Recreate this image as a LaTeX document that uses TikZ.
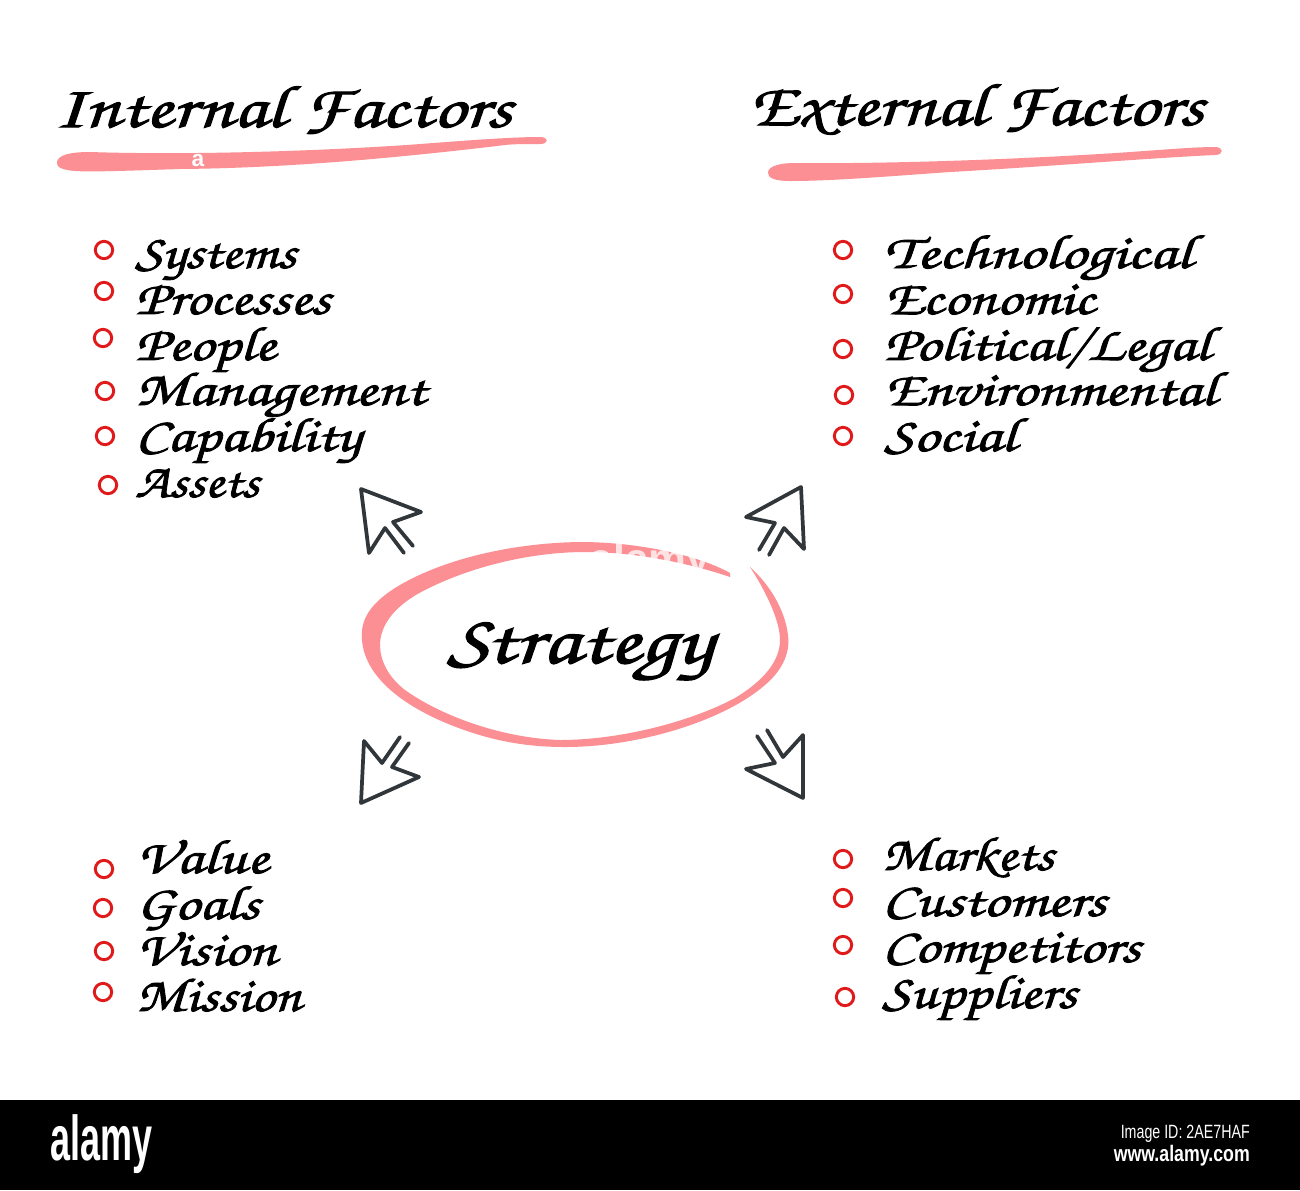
\documentclass[tikz,border=0pt]{standalone}
\usepackage{fontspec}
\setmainfont{TeX Gyre Chorus}[FakeBold=1.8,FakeStretch=1.31]
\newfontfamily\wmfont{Liberation Sans}
\definecolor{penpink}{HTML}{FB8F93}
\definecolor{bulletred}{HTML}{E01A1A}
\definecolor{arrowink}{HTML}{30363A}
\tikzset{
  head/.style={anchor=base west,inner sep=0pt,font=\fontsize{45}{45}\selectfont},
  item/.style={anchor=base west,inner sep=0pt,font=\fontsize{36}{36}\selectfont},
  centre/.style={anchor=base west,inner sep=0pt,font=\fontsize{52}{52}\selectfont},
  bulletring/.style={circle,draw=bulletred,line width=2.2pt,fill=white,minimum size=13pt,inner sep=0pt},
  penstroke/.style={fill=penpink,draw=none},
  cursor/.style={draw=arrowink,line width=2.8pt,line join=round,line cap=round},
  wm/.style={inner sep=0pt,text=white,font=\wmfont\bfseries}
}
\begin{document}
\begin{tikzpicture}[x=0.75pt,y=-0.75pt]
\useasboundingbox (0,0) rectangle (1300,1190);
\fill[white] (0,0) rectangle (1300,1190);
\fill[black] (0,1100) rectangle (1300,1190);
% underlines
\fill[penstroke] (57,162) .. controls (58,155) and (70,152) .. (90,152) .. controls (180,155) and (300,152) .. (407,145) .. controls (460,141) and (510,137) .. (540,137) .. controls (549,137) and (549,144) .. (540,144) .. controls (520,144) and (510,144) .. (497,146) .. controls (420,155) and (300,168) .. (180,169) .. controls (120,171) and (90,172) .. (75,171) .. controls (62,170) and (56,167) .. (57,162) -- cycle;
\fill[penstroke] (768,172) .. controls (769,166) and (780,163) .. (795,163) .. controls (880,164) and (1000,160) .. (1100,154) .. controls (1150,151) and (1190,147) .. (1215,147) .. controls (1224,147) and (1224,155) .. (1215,155) .. controls (1150,158) and (1040,167) .. (950,172) .. controls (880,177) and (830,181) .. (790,181) .. controls (775,181) and (767,178) .. (768,172) -- cycle;
% ellipse stroke
\fill[penstroke] (730,573) .. controls (700,556) and (640,542) .. (580,542) .. controls (510,543) and (440,560) .. (395,588) .. controls (370,604) and (360,620) .. (362,640) .. controls (365,680) and (410,712) .. (470,732) .. controls (500,742) and (530,747) .. (565,747) .. controls (640,747) and (725,720) .. (765,685) .. controls (785,668) and (790,650) .. (788,635) .. controls (785,610) and (770,585) .. (750,567) .. controls (765,590) and (780,620) .. (780,640) .. controls (780,660) and (765,680) .. (735,698) .. controls (690,722) and (620,740) .. (560,740) .. controls (500,738) and (440,715) .. (405,690) .. controls (388,677) and (380,660) .. (380,645) .. controls (380,625) and (395,605) .. (425,590) .. controls (470,567) and (530,552) .. (585,552) .. controls (640,552) and (695,565) .. (730,577) -- cycle;
% watermark fragments
\node[wm,scale=1.7] (wma) at (198,161) {a};
\node[wm,scale=3.2,opacity=.75] (wmb) at (650,562) {alamy};
% headings
\node[head] (internal) at (54,127) {Internal Factors};
\node[head,xscale=.96] (external) at (749,125) {External Factors};
\node[centre] (strategy) at (447,663) {Strategy};
% top left
\node[item,xscale=.93] (i1) at (135,268) {Systems};
\node[item,xscale=.97] (i2) at (135,314) {Processes};
\node[item,xscale=.97] (i3) at (135,360) {People};
\node[item] (i4) at (135,405) {Management};
\node[item,xscale=.98] (i5) at (135,451) {Capability};
\node[item,xscale=.88] (i6) at (135,497) {Assets};
\node[bulletring] (bi1) at (104,250) {};
\node[bulletring] (bi2) at (104,291) {};
\node[bulletring] (bi3) at (103,338) {};
\node[bulletring] (bi4) at (105,391) {};
\node[bulletring] (bi5) at (105,436) {};
\node[bulletring] (bi6) at (108,485) {};
% top right
\node[item,xscale=1.03] (e1) at (884,268) {Technological};
\node[item,xscale=.98] (e2) at (884,314) {Economic};
\node[item,xscale=.985] (e3) at (884,360) {Political/Legal};
\node[item] (e4) at (884,405) {Environmental};
\node[item] (e5) at (884,451) {Social};
\node[bulletring] (be1) at (843,250) {};
\node[bulletring] (be2) at (843,294) {};
\node[bulletring] (be3) at (843,349) {};
\node[bulletring] (be4) at (844,395) {};
\node[bulletring] (be5) at (843,436) {};
% bottom left
\node[item] (v1) at (136,873) {Value};
\node[item,xscale=.98] (v2) at (136,919) {Goals};
\node[item,xscale=.97] (v3) at (136,965) {Vision};
\node[item,xscale=.93] (v4) at (136,1011) {Mission};
\node[bulletring] (bv1) at (104,869) {};
\node[bulletring] (bv2) at (103,908) {};
\node[bulletring] (bv3) at (104,951) {};
\node[bulletring] (bv4) at (103,992) {};
% bottom right
\node[item,xscale=.92] (m1) at (882,870) {Markets};
\node[item] (m2) at (882,916) {Customers};
\node[item,xscale=.98] (m3) at (882,962) {Competitors};
\node[item,xscale=.96] (m4) at (882,1008) {Suppliers};
\node[bulletring] (bm1) at (843,859) {};
\node[bulletring] (bm2) at (843,898) {};
\node[bulletring] (bm3) at (843,945) {};
\node[bulletring] (bm4) at (845,997) {};
% cursor arrows
\draw[cursor] (404,553)--(385,528)--(369,553)--(361,489)--(421,512)--(393,522)--(413,546);
\draw[cursor] (759,550)--(775,523)--(746,517)--(801,487)--(804,549)--(784,528)--(769,555);
\draw[cursor] (409,743)--(392,767)--(419,777)--(361,803)--(364,741)--(382,763)--(400,737);
\draw[cursor] (757,736)--(775,763)--(746,769)--(803,798)--(803,735)--(783,757)--(767,730);
% footer
\node[anchor=base west,inner sep=0pt,text=white,font=\wmfont\bfseries\fontsize{38}{38}\selectfont,xscale=.71,yscale=1.25] (logo) at (50,1160) {alamy};
\node[anchor=base east,inner sep=0pt,text=white,font=\wmfont\fontsize{12}{12}\selectfont,xscale=.89,yscale=1.2] (imgid) at (1250,1138) {Image ID: 2AE7HAF};
\node[anchor=base east,inner sep=0pt,text=white,font=\wmfont\bfseries\fontsize{14}{14}\selectfont,xscale=.95,yscale=1.2] (www) at (1250,1161) {www.alamy.com};
\end{tikzpicture}
\end{document}
